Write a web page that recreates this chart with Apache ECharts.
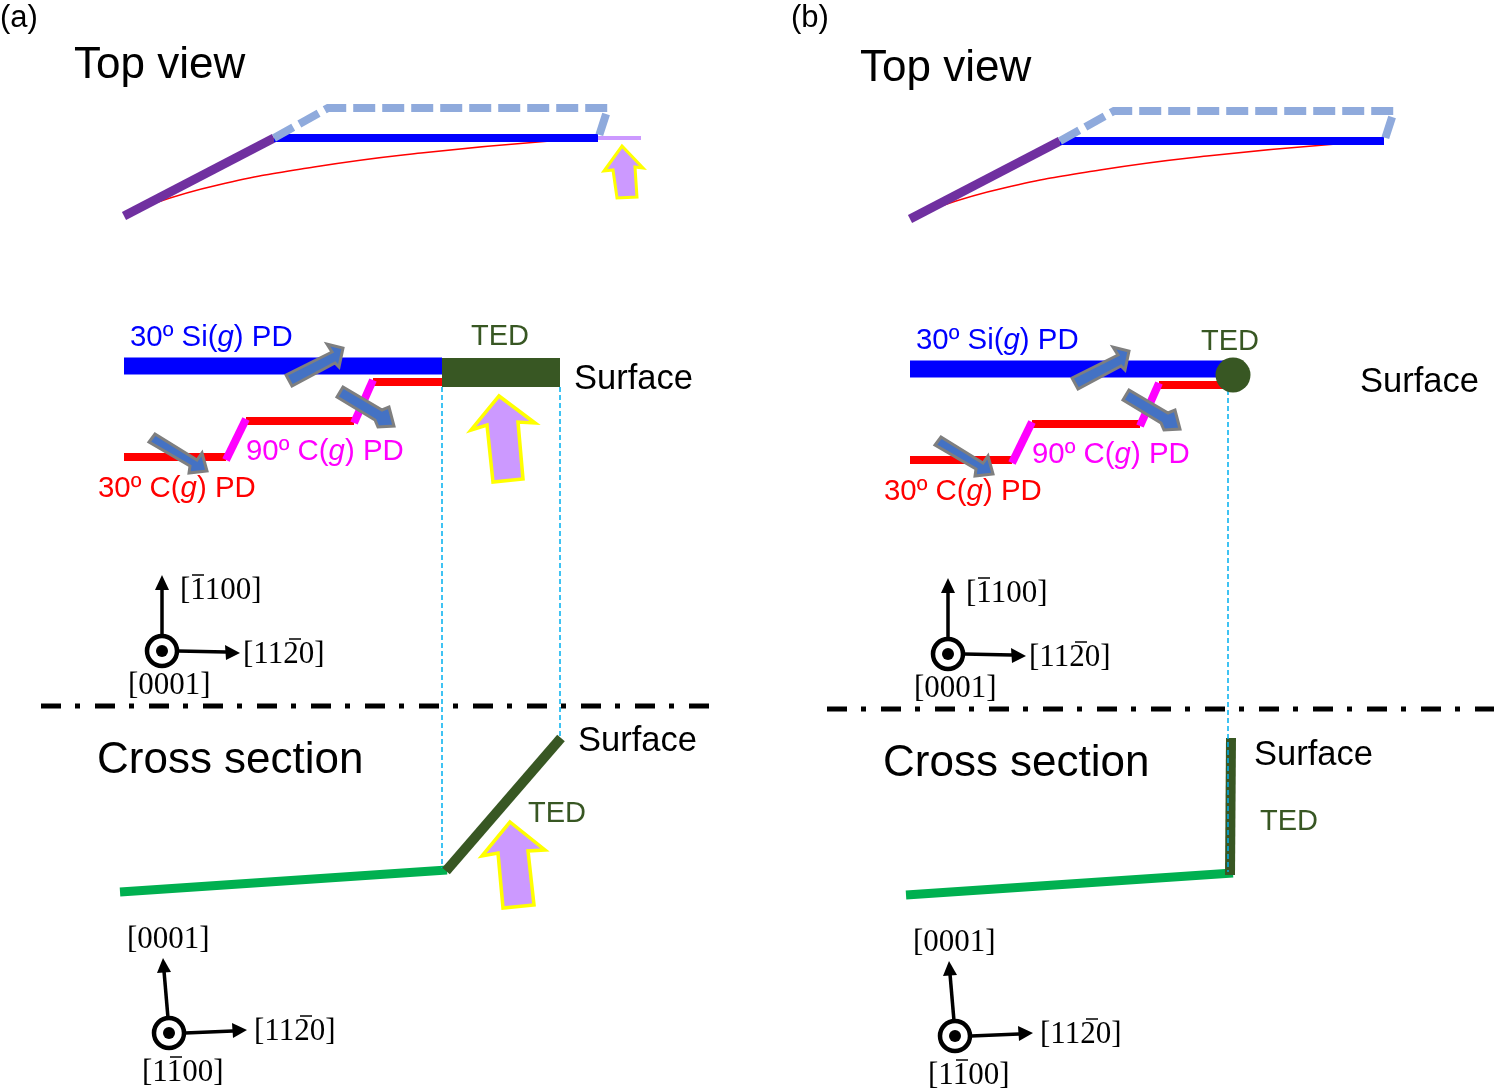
<!DOCTYPE html>
<html>
<head>
<meta charset="utf-8">
<style>
  html, body { margin: 0; padding: 0; background: #fff; }
  #main { width: 1494px; height: 1090px; }
</style>
<script src="https://cdn.jsdelivr.net/npm/echarts@6/dist/echarts.min.js"></script>
</head>
<body>
<div id="main"></div>
<script>
// picture points, [x, y]. panel (b) repeats most of (a) moved by panelB
const panelB = [786, 3];

const topPurple = [[124, 216], [274, 138]];
const topBlue = [[274, 138], [598, 138]];
const topDashed = [[274, 138], [328, 108], [608, 108], [598, 139]];
const topCurve = [[155, 203], [218, 185], [314, 167], [421, 153], [550, 141]];
const topPink = [[598, 138], [641, 138]];
const topArrow = [[622, 146], [643, 168], [635, 167], [637, 197], [617, 198], [613, 170], [604, 171]];

const siLine = [[124, 366], [442, 366]];
const cLines = [[[442, 382], [373, 382]], [[354, 421], [246, 421]], [[226, 457], [124, 457]]];
const gLines = [[[373, 380], [354, 423]], [[246, 419], [226, 460]]];
const pdArrows = [
  [[286, 375], [332, 352], [327, 344], [343, 348], [339, 367], [335, 363], [292, 386]],
  [[343, 387], [382, 410], [389, 407], [394, 426], [378, 427], [375, 420], [337, 397]],
  [[155, 434], [197, 460], [202, 453], [207, 471], [189, 473], [190, 466], [149, 442]]
];

const tedBand = [[442, 372.5], [560, 372.5]];
const bigArrowMid = [[499, 396], [535, 423], [518, 422], [523, 479], [493, 482], [487, 425], [471, 430]];
const bigArrowLow = [[510, 822], [545, 850], [528, 851], [534, 905], [503, 908], [498, 853], [482, 856]];
const cyanA = [[[442, 387], [442, 868]], [[560, 387], [560, 738]]];

const sepLine = [[41, 706], [710, 706]];
const greenLine = [[120, 892], [447, 870]];
const tedSlope = [[446, 871], [561, 738]];

// b only
const tedDot = [[1233, 375]];
const tedWall = [[1231, 738], [1230, 875]];
const cyanB = [[1228, 390], [1228, 872]];

// crystal axes: ring centre, then shaft and head of each arrow
const ringUpper = [[162, 651]];
const shaftsUpper = [[[162, 636], [162, 589]], [[178, 651], [226, 652]]];
const headsUpper = [[[162, 575], [169, 590], [155, 590]], [[240, 653], [226, 660], [225, 645]]];
const ringLower = [[169, 1033]];
const shaftsLower = [[[168, 1018], [164, 971]], [[185, 1033], [233, 1031]]];
const headsLower = [[[163, 958], [171, 972], [157, 973]], [[247, 1030], [233, 1038], [232, 1023]]];
const overbars = [
  [[192, 575], [204, 575]], [[289, 639], [301, 639]],
  [[170, 1057], [182, 1057]], [[300, 1016], [312, 1016]]
];

// text: [x, y, text]
const panelTags = [[0, 18, '(a)'], [791, 18, '(b)']];
const titles = [[74, 66, 'Top view'], [860, 69, 'Top view'], [97, 761, 'Cross section'], [883, 764, 'Cross section']];
const surfaceLabels = [[574, 379, 'Surface'], [1360, 382, 'Surface'], [578, 741, 'Surface'], [1254, 755, 'Surface']];
const tedLabels = [[471, 337, 'TED'], [1201, 342, 'TED'], [528, 814, 'TED'], [1260, 822, 'TED']];
const siLabels = [[130, 338, '30º Si({i|g}) PD'], [916, 341, '30º Si({i|g}) PD']];
const gLabels = [[246, 452, '90º C({i|g}) PD'], [1032, 455, '90º C({i|g}) PD']];
const cLabels = [[98, 489, '30º C({i|g}) PD'], [884, 492, '30º C({i|g}) PD']];
const axisLabels = [
  [180, 591, '[1100]'], [243, 655, '[1120]'], [128, 686, '[0001]'],
  [127, 940, '[0001]'], [254, 1032, '[1120]'], [142, 1073, '[1100]']
];

const SANS = '"Liberation Sans", Arial, sans-serif';
const SERIF = '"Liberation Serif", serif';

function moved(points) {
  return points.map(p => [p[0] + panelB[0], p[1] + panelB[1]]);
}

function line(points, color, width, dash, smooth) {
  return {
    type: 'line',
    data: points,
    symbol: 'none',
    smooth: !!smooth,
    silent: true,
    clip: false,
    lineStyle: { color: color, width: width, type: dash || 'solid', cap: 'butt', join: 'miter', opacity: 1 }
  };
}

function polygon(points, fill, stroke, width) {
  return {
    type: 'custom',
    data: points,
    silent: true,
    clip: false,
    renderItem: function (params, api) {
      if (params.dataIndex !== 0) return;
      return {
        type: 'polygon',
        shape: { points: points.map(p => api.coord(p)) },
        style: { fill: fill, stroke: stroke, lineWidth: width, lineJoin: 'miter' }
      };
    }
  };
}

function dots(points, size, color, border, borderWidth) {
  return {
    type: 'scatter',
    data: points,
    symbol: 'circle',
    symbolSize: size,
    silent: true,
    clip: false,
    itemStyle: { color: color, borderColor: border || color, borderWidth: borderWidth || 0, opacity: 1 }
  };
}

function texts(rows, color, size, family) {
  return {
    type: 'scatter',
    data: rows,
    symbolSize: 0,
    silent: true,
    clip: false,
    itemStyle: { opacity: 1 },
    label: {
      show: true,
      position: 'right',
      distance: 0,
      opacity: 1,
      color: color,
      fontSize: size,
      fontFamily: family || SANS,
      formatter: p => p.data[2],
      rich: { i: { color: color, fontSize: size, fontFamily: family || SANS, fontStyle: 'italic' } }
    }
  };
}

function panel(shift) {
  const s = shift ? moved : p => p;
  const out = [
    line(s(topCurve), '#ff0000', 1.5, null, true),
    line(s(topPurple), '#7030a0', 9),
    line(s(topBlue), '#0000ff', 8),
    line(s(topDashed), '#8faadc', 8, [22, 7]),
    line(s(siLine), '#0000ff', 17)
  ];
  cLines.forEach(l => out.push(line(s(l), '#ff0000', 8)));
  gLines.forEach(l => out.push(line(s(l), '#ff00ff', 8)));
  pdArrows.forEach(a => out.push(polygon(s(a), '#4472c4', '#7f7f7f', 3)));
  out.push(line(s(sepLine), '#000000', 5, [20, 14, 5, 15]));
  out.push(line(s(greenLine), '#00b050', 9));
  shaftsUpper.concat(shaftsLower).forEach(l => out.push(line(s(l), '#000000', 3.5)));
  overbars.forEach(l => out.push(line(s(l), '#000000', 1.5)));
  headsUpper.concat(headsLower).forEach(h => out.push(polygon(s(h), '#000000', '#000000', 0)));
  out.push(dots(s(ringUpper), 30, '#ffffff', '#000000', 4.5));
  out.push(dots(s(ringLower), 30, '#ffffff', '#000000', 4.5));
  out.push(dots(s(ringUpper), 12, '#000000'));
  out.push(dots(s(ringLower), 12, '#000000'));
  return out;
}

const series = [].concat(
  panel(false),
  panel(true),
  [
    // panel (a) only
    line(topPink, '#cc99ff', 4),
    polygon(topArrow, '#cc99ff', '#ffff00', 3),
    line(tedBand, '#385723', 29),
    line(cyanA[0], '#00b0f0', 1.5, [5, 3]),
    line(cyanA[1], '#00b0f0', 1.5, [5, 3]),
    line(tedSlope, '#385723', 10),
    polygon(bigArrowMid, '#cc99ff', '#ffff00', 3.5),
    polygon(bigArrowLow, '#cc99ff', '#ffff00', 3.5),
    // panel (b) only
    line(tedWall, '#385723', 10),
    line(cyanB, '#00b0f0', 1.5, [5, 3]),
    dots(tedDot, 35, '#385723'),
    // text
    texts(panelTags, '#000000', 31),
    texts(titles, '#000000', 44),
    texts(surfaceLabels, '#000000', 34.5),
    texts(tedLabels, '#385723', 29),
    texts(siLabels, '#0000ff', 29.4),
    texts(gLabels, '#ff00ff', 29.4),
    texts(cLabels, '#ff0000', 29.4),
    texts(axisLabels, '#000000', 31, SERIF),
    texts(moved(axisLabels).map((p, i) => [p[0], p[1], axisLabels[i][2]]), '#000000', 31, SERIF)
  ]
);
// line and custom series otherwise sort apart, keep the order above
series.forEach((s, i) => { s.z = i + 2; });

const chart = echarts.init(document.getElementById('main'));
chart.setOption({
  animation: false,
  backgroundColor: '#ffffff',
  tooltip: { show: false },
  legend: { show: false },
  grid: { left: 0, right: 0, top: 0, bottom: 0 },
  xAxis: { type: 'value', min: 0, max: 1494, show: false },
  yAxis: { type: 'value', min: 0, max: 1090, inverse: true, show: false },
  series: series
});
</script>
</body>
</html>
